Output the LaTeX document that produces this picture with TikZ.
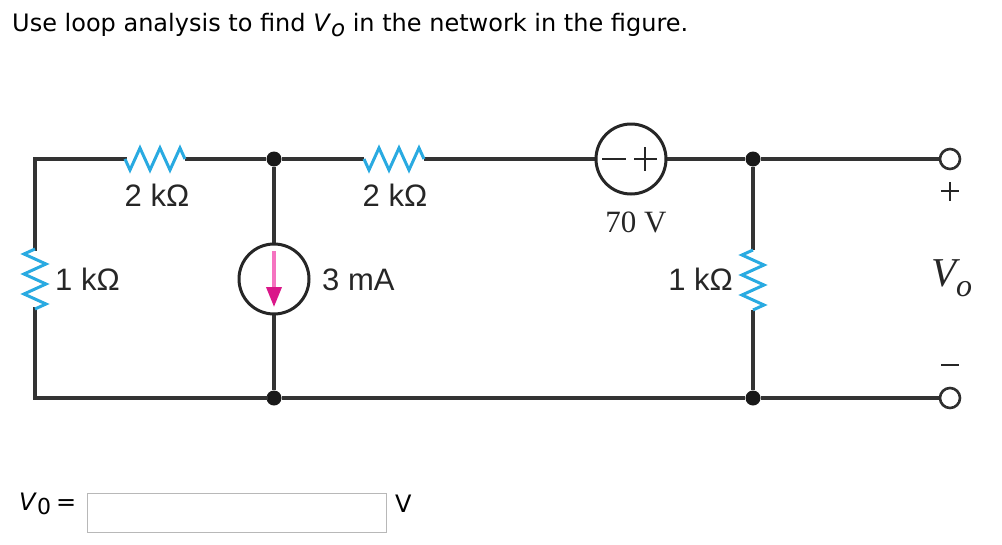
\documentclass[tikz,border=0pt]{standalone}
\usepackage{fontspec}
\setmainfont{Liberation Sans}
\newfontfamily\promptfont{DejaVu Sans}
\newfontfamily\seriffont{Liberation Serif}
\usetikzlibrary{decorations.pathmorphing,arrows.meta}
\definecolor{resblue}{RGB}{41,170,225}
\tikzset{
  wire/.style={line width=3.6pt,draw=black!80},
  res/.style={line width=3pt,draw=resblue,decorate,decoration={zigzag,segment length=20pt,amplitude=11pt,mirror}},
  dot/.style={circle,fill=black!90,inner sep=0pt,minimum size=15pt},
  term/.style={circle,draw=black!82,fill=white,line width=2.6pt,inner sep=0pt,minimum size=20pt},
  source/.style={circle,draw=black!85,fill=white,line width=3pt,inner sep=0pt,minimum size=70pt},
  val/.style={font=\fontsize{31}{31}\selectfont,text=black!85,inner sep=0pt},
  prompt/.style={font=\promptfont\fontsize{24}{24}\selectfont,text=black,inner sep=0pt},
}
\begin{document}
\begin{tikzpicture}[x=1pt,y=-1pt]
      \useasboundingbox (0,0) rectangle (1002,544);
      \draw
        (35,159) coordinate (tl)
        (35,398) coordinate (bl)
        (274,159) node[dot] (jtop){}
        (274,398) node[dot] (jbot){}
        (753,159) node[dot] (ktop){}
        (753,398) node[dot] (kbot){}
        (950,159) coordinate (ptop)
        (950,398) coordinate (pbot)
        (125,159) coordinate (ra1)
        (185,159) coordinate (ra2)
        (364,159) coordinate (rb1)
        (424,159) coordinate (rb2)
        (35,249) coordinate (rc1)
        (35,309) coordinate (rc2)
        (753,250) coordinate (rd1)
        (753,310) coordinate (rd2);
      \begin{scope}[wire]
        \draw[line cap=rect] (ra1) -- (tl) -- (rc1);
        \draw[line cap=rect] (rc2) -- (bl) -- (jbot);
        \draw (ra2) -- (jtop);
        \draw (jtop) -- (rb1);
        \draw (rb2) -- (ktop);
        \draw (ktop) -- (ptop);
        \draw (jbot) -- (kbot);
        \draw (kbot) -- (pbot);
        \draw (jtop) -- (jbot);
        \draw (ktop) -- (rd1);
        \draw (rd2) -- (kbot);
      \end{scope}
      \draw[res] (ra1) -- (ra2);
      \draw[res] (rb1) -- (rb2);
      \draw[res] (rc1) -- (rc2);
      \draw[res] (rd1) -- (rd2);
      \node[term] (topterm) at (ptop) {};
      \node[term] (botterm) at (pbot) {};
      \node[source] (isrc) at (274,279) {};
      \node[source] (vsrc) at (631,159) {};
      % current arrow
      \coordinate (arrowtop) at (274,251);
      \coordinate (arrowtip) at (274,307);
      \draw[line width=3.6pt,draw=magenta!55,-{Triangle[length=20pt,width=15pt,color=magenta!90!black]}] (arrowtop) -- (arrowtip);
      % polarity marks
      \coordinate (minusl) at (602,159);
      \coordinate (minusr) at (626,159);
      \coordinate (plush1) at (634,159);
      \coordinate (plush2) at (657,159);
      \coordinate (plusv1) at (645,147);
      \coordinate (plusv2) at (645,171);
      \draw[line width=1.9pt,black!85] (minusl) -- (minusr);
      \draw[line width=1.9pt,black!85] (plush1) -- (plush2) (plusv1) -- (plusv2);
      \coordinate (vph1) at (941,191);
      \coordinate (vph2) at (959,191);
      \coordinate (vpv1) at (950,182);
      \coordinate (vpv2) at (950,201);
      \coordinate (vm1) at (941,365);
      \coordinate (vm2) at (959,365);
      \draw[line width=1.9pt,black!85] (vph1) -- (vph2) (vpv1) -- (vpv2);
      \draw[line width=1.9pt,black!85] (vm1) -- (vm2);
      % labels
      \node[val] (lbla) at (157,195) {2 kΩ};
      \node[val] (lblb) at (395,195) {2 kΩ};
      \node[val,anchor=west] (lblc) at (55,279) {1 kΩ};
      \node[val,anchor=east] (lbld) at (733,279) {1 kΩ};
      \node[val,anchor=west] (lble) at (322,280) {3 mA};
      \node[val,font=\seriffont\fontsize{31}{31}\selectfont] (lblf) at (636,222) {70 V};
      \node[text=black!85,inner sep=0pt,font=\seriffont\itshape\fontsize{41}{41}\selectfont] (lblv) at (944,273) {V};
      \node[text=black!85,inner sep=0pt,font=\seriffont\itshape\fontsize{32}{32}\selectfont] (lblo) at (964,289) {o};
      % question
      \node[prompt,anchor=base west] (question) at (12,31) {Use loop analysis to find \textit{V}\raisebox{-5pt}{\fontsize{23}{23}\selectfont\textit{o}} in the network in the figure.};
      \node[prompt,anchor=base west] (answer) at (19,510) {\textit{V}\raisebox{-4pt}{\fontsize{22}{22}\selectfont 0}};
      \node[prompt,anchor=base west] (equals) at (56,510) {=};
      \node[draw=black!28,line width=1.2pt,minimum width=299pt,minimum height=39pt,inner sep=0pt] (box) at (237,513) {};
      \node[prompt,anchor=base west] (unit) at (395,512) {V};
    \end{tikzpicture}
\end{document}
